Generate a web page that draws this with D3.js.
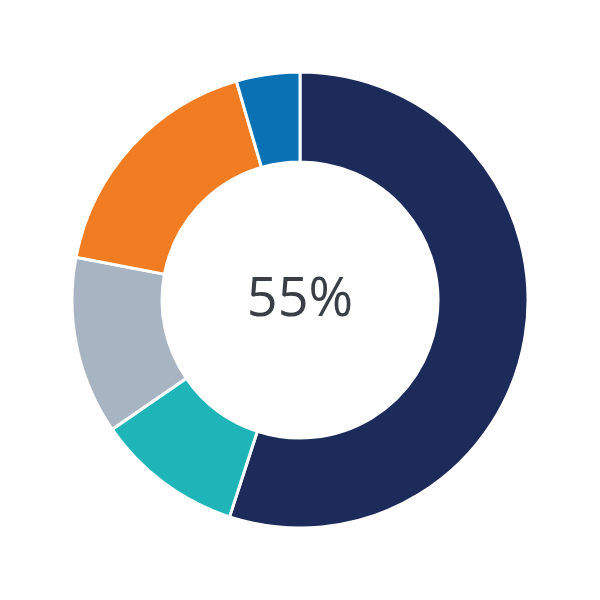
<!DOCTYPE html>
<html>
<head>
<meta charset="utf-8">
<script src="https://cdn.jsdelivr.net/npm/d3@7"></script>
<style>
  body { margin: 0; background: #fff; }
</style>
</head>
<body>
<div id="chart"></div>
<script>
const categories = ['A', 'B', 'C', 'D', 'E']
const values = [55, 10.4, 12.6, 17.5, 4.5]
const colors = ['#1c2b5a', '#1fb5b8', '#a9b4c2', '#f27c21', '#0a72b4']
const centerLabel = '55%'

const width = 600, height = 600
const outer = 228, inner = 138

const svg = d3.select('#chart')
  .append('svg')
  .attr('width', width)
  .attr('height', height)

const g = svg.append('g')
  .attr('transform', `translate(${width / 2},${height / 2})`)

const pie = d3.pie().sort(null).value(d => d)
const arc = d3.arc().innerRadius(inner).outerRadius(outer)

const color = d3.scaleOrdinal().domain(categories).range(colors)

g.selectAll('path')
  .data(pie(values))
  .enter()
  .append('path')
  .attr('d', arc)
  .attr('fill', (d, i) => color(categories[i]))
  .attr('stroke', '#fff')
  .attr('stroke-width', 3)

g.append('text')
  .attr('text-anchor', 'middle')
  .attr('y', 16)
  .attr('font-family', "'Open Sans', 'Noto Sans', sans-serif")
  .attr('font-size', 54)
  .attr('fill', '#3a3f47')
  .text(centerLabel)
</script>
</body>
</html>
